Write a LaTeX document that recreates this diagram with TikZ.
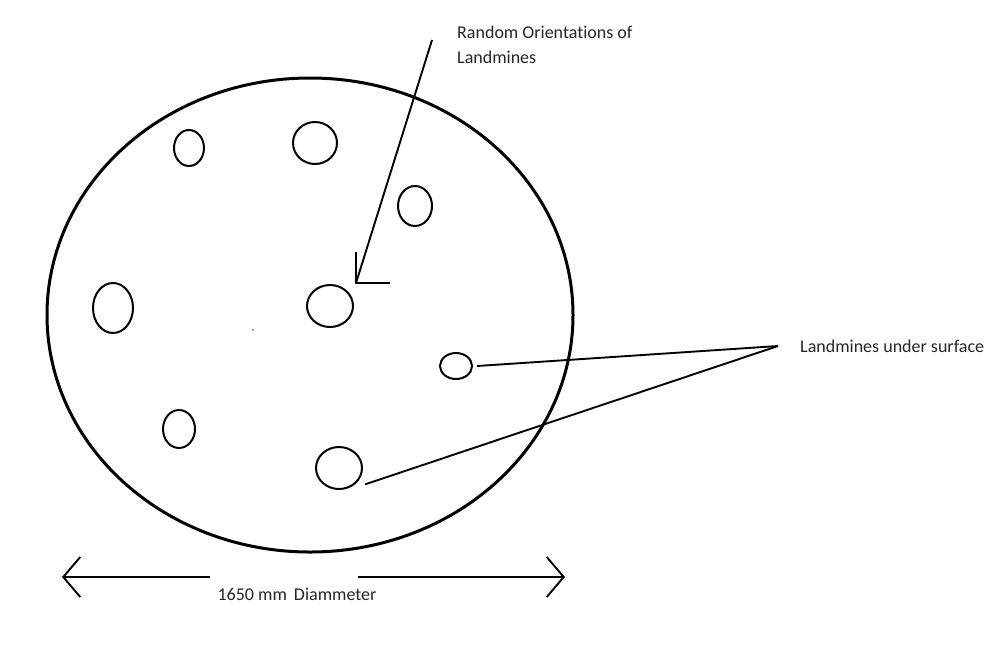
\documentclass[tikz,border=0pt]{standalone}
\usepackage{fontspec}
\setmainfont{Carlito}[Ligatures=NoCommon]
\usetikzlibrary{positioning, arrows.meta, shapes.geometric}

\begin{document}
\begin{tikzpicture}[
        x=1pt, y=-1pt,
        mine/.style={ellipse, draw, line width=2pt, inner sep=0pt},
        note/.style={font=\fontsize{18}{25}\selectfont, text=black!85, align=left, inner sep=0pt},
        lead/.style={line width=1.9pt},
        dimline/.style={line width=1.9pt, -{Straight Barb[length=17pt, width=40pt, line width=1.9pt]}}
    ]
    \useasboundingbox (0,0) rectangle (1006,649);

    % Ground surface
    \draw[line width=3pt] (310,315) ellipse [x radius=263, y radius=237];
    \fill[black!60] (253,330) circle (1);

    % Landmines
    \node[mine, minimum width=30, minimum height=36] (m1) at (189,148) {};
    \node[mine, minimum width=44, minimum height=42] (m2) at (315,143) {};
    \node[mine, minimum width=34, minimum height=40] (m3) at (415,206) {};
    \node[mine, minimum width=40, minimum height=50] (m4) at (113,308) {};
    \node[mine, minimum width=46, minimum height=42] (m5) at (330,306) {};
    \node[mine, minimum width=32, minimum height=26] (m6) at (456,366) {};
    \node[mine, minimum width=32, minimum height=38] (m7) at (179,429) {};
    \node[mine, minimum width=46, minimum height=42] (m8) at (339,468) {};

    % Labels
    \node[note, anchor=north west] (orient) at (457,26) {Random Orientations of\\Landmines};
    \node[note, anchor=west] (under) at (800,346) {Landmines under surface};
    \node[note] (dim) at (297,594) {1650 mm\, Diammeter};

    % Orientation arrow
    \coordinate (tail) at (432,40);
    \coordinate (tip) at (356,283);
    \draw[lead] (tail) -- (tip);
    \draw[lead] (tip) ++(0,-31) -- (tip) -- ++(34,0);

    % Leaders to landmines
    \coordinate[left=22pt of under] (fork);
    \draw[lead] (fork) -- ([xshift=4pt]m6.east);
    \draw[lead] (fork) -- ([xshift=7pt, yshift=-3pt]m8.-35);

    % Diameter
    \coordinate (dl) at (62,577);
    \coordinate (dr) at (565,577);
    \draw[dimline] (210,577) -- (dl);
    \draw[dimline] (358,577) -- (dr);

\end{tikzpicture}
\end{document}
